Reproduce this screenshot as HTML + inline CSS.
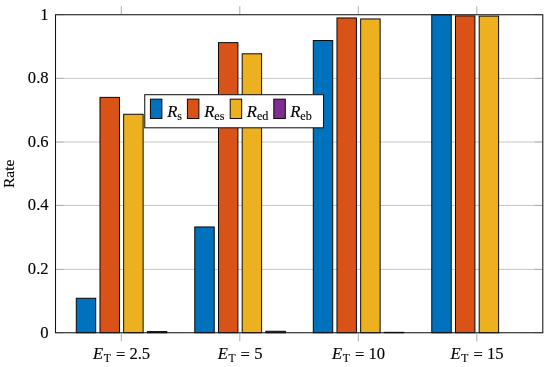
<!DOCTYPE html>
<html><head><meta charset="utf-8"><title>Rate</title>
<style>html,body{margin:0;padding:0;background:#fff}svg{display:block}text{font-family:"Liberation Serif",serif;fill:#000;stroke:#000;stroke-width:0.12px}</style></head><body>
<svg width="550" height="367" viewBox="0 0 550 367">
<rect width="550" height="367" fill="#fff"/>
<line x1="55.5" x2="542.8" y1="269.40" y2="269.40" stroke="#b0b0b0" stroke-width="0.72"/>
<line x1="55.5" x2="542.8" y1="205.42" y2="205.42" stroke="#b0b0b0" stroke-width="0.72"/>
<line x1="55.5" x2="542.8" y1="142.02" y2="142.02" stroke="#b0b0b0" stroke-width="0.72"/>
<line x1="55.5" x2="542.8" y1="78.40" y2="78.40" stroke="#b0b0b0" stroke-width="0.72"/>
<line x1="121.30" x2="121.30" y1="332.75" y2="341.35" stroke="#6a6a6a" stroke-width="0.55"/>
<line x1="121.30" x2="121.30" y1="14.75" y2="6.15" stroke="#6a6a6a" stroke-width="0.55"/>
<line x1="239.80" x2="239.80" y1="332.75" y2="341.35" stroke="#6a6a6a" stroke-width="0.55"/>
<line x1="239.80" x2="239.80" y1="14.75" y2="6.15" stroke="#6a6a6a" stroke-width="0.55"/>
<line x1="358.30" x2="358.30" y1="332.75" y2="341.35" stroke="#6a6a6a" stroke-width="0.55"/>
<line x1="358.30" x2="358.30" y1="14.75" y2="6.15" stroke="#6a6a6a" stroke-width="0.55"/>
<line x1="476.80" x2="476.80" y1="332.75" y2="341.35" stroke="#6a6a6a" stroke-width="0.55"/>
<line x1="476.80" x2="476.80" y1="14.75" y2="6.15" stroke="#6a6a6a" stroke-width="0.55"/>
<line x1="55.5" x2="63.8" y1="332.75" y2="332.75" stroke="#8c8c8c" stroke-width="0.45"/>
<line x1="542.8" x2="534.5" y1="332.75" y2="332.75" stroke="#8c8c8c" stroke-width="0.45"/>
<line x1="55.5" x2="63.8" y1="14.75" y2="14.75" stroke="#8c8c8c" stroke-width="0.45"/>
<line x1="542.8" x2="534.5" y1="14.75" y2="14.75" stroke="#8c8c8c" stroke-width="0.45"/>
<line x1="55.5" x2="63.8" y1="269.40" y2="269.40" stroke="#8c8c8c" stroke-width="0.45"/>
<line x1="542.8" x2="534.5" y1="269.40" y2="269.40" stroke="#8c8c8c" stroke-width="0.45"/>
<line x1="55.5" x2="63.8" y1="205.42" y2="205.42" stroke="#8c8c8c" stroke-width="0.45"/>
<line x1="542.8" x2="534.5" y1="205.42" y2="205.42" stroke="#8c8c8c" stroke-width="0.45"/>
<line x1="55.5" x2="63.8" y1="142.02" y2="142.02" stroke="#8c8c8c" stroke-width="0.45"/>
<line x1="542.8" x2="534.5" y1="142.02" y2="142.02" stroke="#8c8c8c" stroke-width="0.45"/>
<line x1="55.5" x2="63.8" y1="78.40" y2="78.40" stroke="#8c8c8c" stroke-width="0.45"/>
<line x1="542.8" x2="534.5" y1="78.40" y2="78.40" stroke="#8c8c8c" stroke-width="0.45"/>
<rect x="76.28" y="298.25" width="19.45" height="34.50" fill="#0072BD" stroke="#000" stroke-width="0.95"/>
<rect x="99.98" y="97.35" width="19.45" height="235.40" fill="#D95319" stroke="#000" stroke-width="0.95"/>
<rect x="123.68" y="114.25" width="19.45" height="218.50" fill="#EDB120" stroke="#000" stroke-width="0.95"/>
<rect x="147.38" y="331.60" width="19.45" height="1.15" fill="#7E2F8E" stroke="#000" stroke-width="0.95"/>
<rect x="194.78" y="226.95" width="19.45" height="105.80" fill="#0072BD" stroke="#000" stroke-width="0.95"/>
<rect x="218.48" y="42.65" width="19.45" height="290.10" fill="#D95319" stroke="#000" stroke-width="0.95"/>
<rect x="242.18" y="53.80" width="19.45" height="278.95" fill="#EDB120" stroke="#000" stroke-width="0.95"/>
<rect x="265.88" y="331.25" width="19.45" height="1.50" fill="#7E2F8E" stroke="#000" stroke-width="0.95"/>
<rect x="313.27" y="40.55" width="19.45" height="292.20" fill="#0072BD" stroke="#000" stroke-width="0.95"/>
<rect x="336.97" y="17.95" width="19.45" height="314.80" fill="#D95319" stroke="#000" stroke-width="0.95"/>
<rect x="360.68" y="18.95" width="19.45" height="313.80" fill="#EDB120" stroke="#000" stroke-width="0.95"/>
<rect x="384.38" y="332.30" width="19.45" height="0.45" fill="#7E2F8E" stroke="#000" stroke-width="0.95"/>
<rect x="431.77" y="14.75" width="19.45" height="318.00" fill="#0072BD" stroke="#000" stroke-width="0.95"/>
<rect x="455.47" y="15.90" width="19.45" height="316.85" fill="#D95319" stroke="#000" stroke-width="0.95"/>
<rect x="479.18" y="16.10" width="19.45" height="316.65" fill="#EDB120" stroke="#000" stroke-width="0.95"/>
<rect x="55.5" y="14.75" width="487.30" height="318.00" fill="none" stroke="#141414" stroke-width="1.05"/>
<text x="48.6" y="337.75" font-size="16.6" text-anchor="end">0</text>
<text x="48.6" y="274.40" font-size="16.6" text-anchor="end">0.2</text>
<text x="48.6" y="210.42" font-size="16.6" text-anchor="end">0.4</text>
<text x="48.6" y="147.02" font-size="16.6" text-anchor="end">0.6</text>
<text x="48.6" y="83.40" font-size="16.6" text-anchor="end">0.8</text>
<text x="48.6" y="19.75" font-size="16.6" text-anchor="end">1</text>
<text transform="translate(14.0,173.75) rotate(-90)" font-size="15.6" text-anchor="middle">Rate</text>
<text x="121.60" y="358.9" font-size="16.6" text-anchor="middle"><tspan font-style="italic">E</tspan><tspan font-size="11.6" dx="0.6" dy="2.85">T</tspan><tspan dx="0.9" dy="-1.35"> =</tspan><tspan dy="-1.5"> 2.5</tspan></text>
<text x="240.10" y="358.9" font-size="16.6" text-anchor="middle"><tspan font-style="italic">E</tspan><tspan font-size="11.6" dx="0.6" dy="2.85">T</tspan><tspan dx="0.9" dy="-1.35"> =</tspan><tspan dy="-1.5"> 5</tspan></text>
<text x="358.60" y="358.9" font-size="16.6" text-anchor="middle"><tspan font-style="italic">E</tspan><tspan font-size="11.6" dx="0.6" dy="2.85">T</tspan><tspan dx="0.9" dy="-1.35"> =</tspan><tspan dy="-1.5"> 10</tspan></text>
<text x="477.10" y="358.9" font-size="16.6" text-anchor="middle"><tspan font-style="italic">E</tspan><tspan font-size="11.6" dx="0.6" dy="2.85">T</tspan><tspan dx="0.9" dy="-1.35"> =</tspan><tspan dy="-1.5"> 15</tspan></text>
<rect x="144.75" y="94.7" width="178.75" height="33.10" fill="#fff" stroke="#141414" stroke-width="1.05"/>
<rect x="150.4" y="99.15" width="11.5" height="19.4" fill="#0072BD" stroke="#000" stroke-width="0.95"/>
<text x="167.20" y="117" font-size="16.6"><tspan font-style="italic">R</tspan><tspan font-size="12.2" dy="2.75">s</tspan></text>
<rect x="187.4" y="99.15" width="11.5" height="19.4" fill="#D95319" stroke="#000" stroke-width="0.95"/>
<text x="204.20" y="117" font-size="16.6"><tspan font-style="italic">R</tspan><tspan font-size="12.2" dy="2.75">es</tspan></text>
<rect x="230.2" y="99.15" width="11.5" height="19.4" fill="#EDB120" stroke="#000" stroke-width="0.95"/>
<text x="246.80" y="117" font-size="16.6"><tspan font-style="italic">R</tspan><tspan font-size="12.2" dy="2.75">ed</tspan></text>
<rect x="273.8" y="99.15" width="11.5" height="19.4" fill="#7E2F8E" stroke="#000" stroke-width="0.95"/>
<text x="290.20" y="117" font-size="16.6"><tspan font-style="italic">R</tspan><tspan font-size="12.2" dy="2.75">eb</tspan></text>
</svg></body></html>
